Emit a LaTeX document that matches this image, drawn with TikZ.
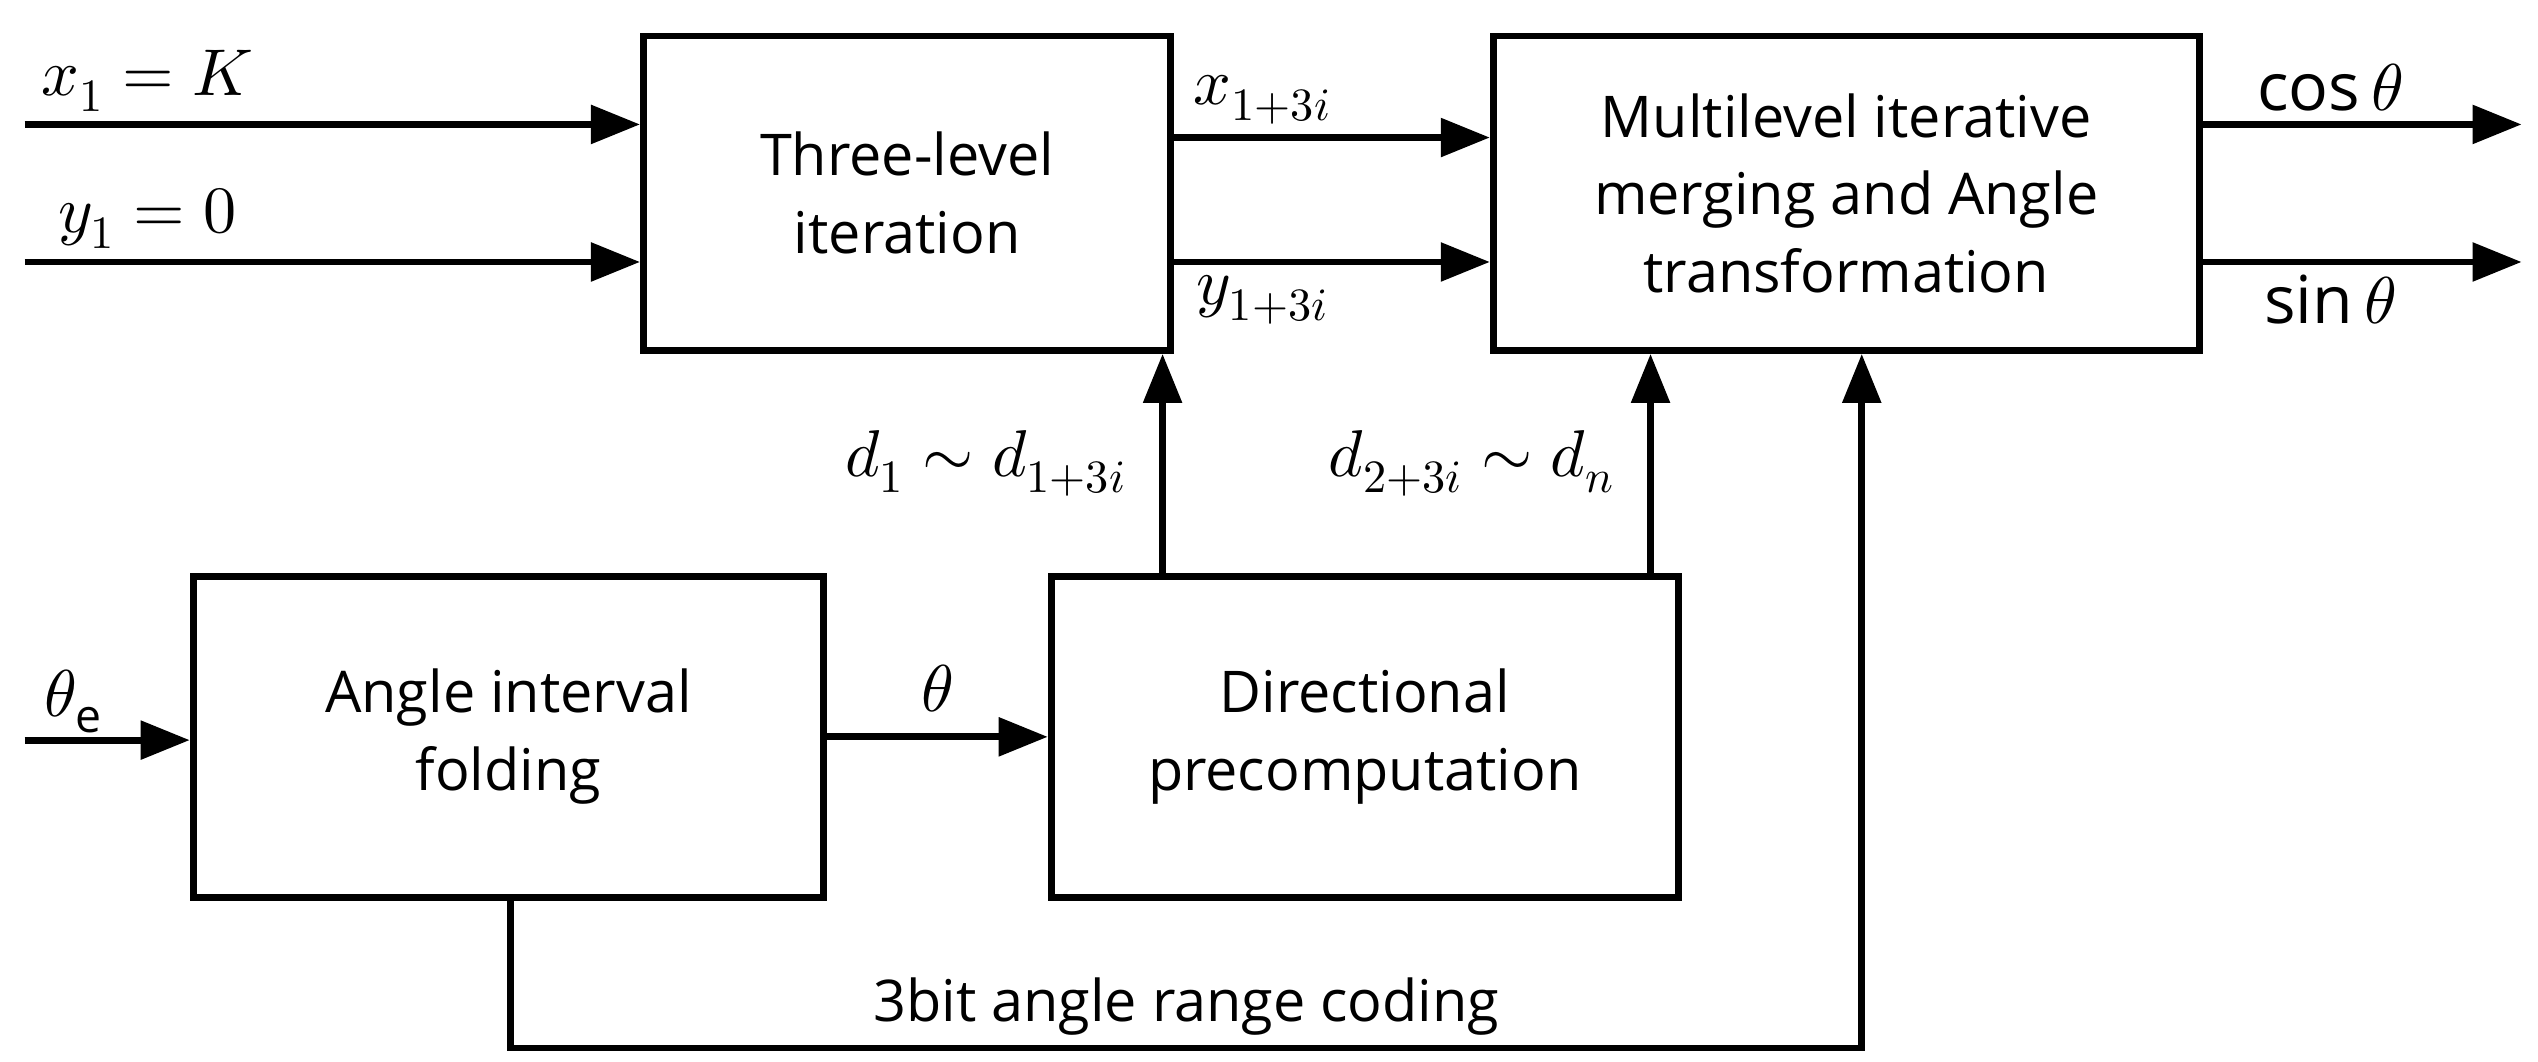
\documentclass[tikz,border=0pt]{standalone}
\usepackage{fontspec}
\setmainfont{Open Sans}
\usepackage{unicode-math}
\setmathfont{Latin Modern Math}
\usetikzlibrary{arrows.meta,calc,positioning}

\begin{document}
\begin{tikzpicture}[
  blk/.style={draw, line width=2.4pt, align=center, font=\fontsize{20}{27}\selectfont, inner sep=0pt},
  arr/.style={line width=2.4pt, -{Triangle[length=6mm,width=4.6mm]}},
  lbl/.style={font=\fontsize{23}{27}\selectfont}
]
\useasboundingbox (0,0) rectangle (31,-12.97);
% blocks
\node[blk, minimum width=6.44cm, minimum height=3.84cm] (three) at (11.08,-2.36) {Three-level\\iteration};
\node[blk, minimum width=8.62cm, minimum height=3.84cm] (merge) at (22.55,-2.36) {Multilevel iterative\\merging and Angle\\transformation};
\node[blk, minimum width=7.7cm, minimum height=3.92cm] (fold) at (6.21,-9.0) {Angle interval\\folding};
\node[blk, minimum width=7.66cm, minimum height=3.92cm] (dir) at (16.67,-9.0) {Directional\\precomputation};
% free ends
\coordinate (xin) at (0.3,-1.52);
\coordinate (yin) at (0.3,-3.2);
\coordinate (thin) at (0.3,-9.04);
\coordinate (cosout) at (30.8,-1.52);
\coordinate (sinout) at (30.8,-3.2);
\coordinate (d1) at ($(dir.north)+(-2.47,0)$);
\coordinate (d2) at ($(dir.north)+(3.49,0)$);
% inputs
\draw[arr] (xin) -- (xin -| three.west) node[pos=0.2, above, lbl] {$x_1=K$};
\draw[arr] (yin) -- (yin -| three.west) node[pos=0.2, above, lbl] {$y_1=0$};
\draw[arr] (thin) -- (thin -| fold.west) node[pos=0.3, above=-2pt, lbl] {$\theta_{\mathrm{e}}$};
% iteration to merging
\draw[arr] ($(three.east)+(0,0.68)$) -- ($(merge.west)+(0,0.68)$) node[pos=0.28, above, lbl] {$x_{1+3i}$};
\draw[arr] ($(three.east)+(0,-0.84)$) -- ($(merge.west)+(0,-0.84)$) node[pos=0.28, below, lbl] {$y_{1+3i}$};
% outputs
\draw[arr] (merge.east |- cosout) -- (cosout) node[pos=0.4, above, lbl] {$\cos\theta$};
\draw[arr] (merge.east |- sinout) -- (sinout) node[pos=0.4, below, lbl] {$\sin\theta$};
% folding to directional
\draw[arr] (fold.east) -- (dir.west) node[midway, above=4pt, lbl] {$\theta$};
% directions up
\draw[arr] (d1) -- (d1 |- three.south) node[midway, left=8pt, lbl] {$d_1\sim d_{1+3i}$};
\draw[arr] (d2) -- (d2 |- merge.south) node[midway, left=8pt, lbl] {$d_{2+3i}\sim d_n$};
% range coding loop
\coordinate (lp) at (22.74,-12.8);
\draw[arr] ($(fold.south)+(0.03,0)$) |- (lp) node[pos=0.75, above, font=\fontsize{20}{24}\selectfont] {3bit angle range coding} -- (lp |- merge.south);
\end{tikzpicture}
\end{document}
